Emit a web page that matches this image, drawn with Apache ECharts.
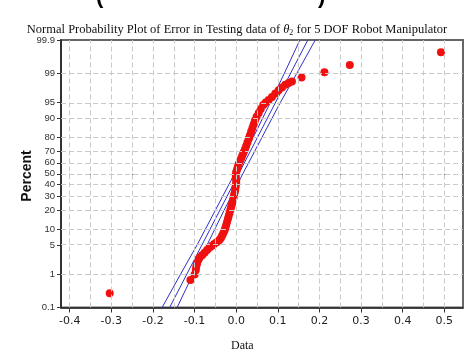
<!DOCTYPE html>
<html>
<head>
<meta charset="utf-8">
<script src="https://cdn.jsdelivr.net/npm/echarts@6/dist/echarts.min.js"></script>
<style>html,body{margin:0;padding:0;background:#fff;}#c{width:474px;height:363px;}</style>
</head>
<body>
<div id="c"></div>
<script>
// ---- data ----
const xTicks = [-0.4, -0.3, -0.2, -0.1, 0.0, 0.1, 0.2, 0.3, 0.4, 0.5];
const xMinorTicks = [-0.4, -0.35, -0.3, -0.25, -0.2, -0.15, -0.1, -0.05, 0, 0.05, 0.1, 0.15, 0.2, 0.25, 0.3, 0.35, 0.4, 0.45, 0.5];
const pctTicks = [0.1, 1, 5, 10, 20, 30, 40, 50, 60, 70, 80, 90, 95, 99, 99.9];

const errValues = [
  -0.304, -0.110, -0.100, -0.097, -0.096, -0.094, -0.091, -0.088, -0.082, -0.076,
  -0.070, -0.064, -0.058, -0.053, -0.047, -0.041, -0.037, -0.034, -0.031, -0.028,
  -0.026, -0.024, -0.022, -0.020, -0.018, -0.016, -0.014, -0.012, -0.010, -0.008,
  -0.006, -0.005, -0.003, -0.002, -0.001, 0.000, 0.000, -0.001, -0.001, 0.000,
  0.002, 0.004, 0.006, 0.009, 0.012, 0.015, 0.018, 0.021, 0.024, 0.027,
  0.030, 0.033, 0.036, 0.039, 0.042, 0.045, 0.049, 0.054, 0.059, 0.065,
  0.071, 0.078, 0.086, 0.094, 0.102, 0.110, 0.118, 0.126, 0.134, 0.157,
  0.212, 0.273, 0.492
];
const pctValues = [
  0.29, 0.71, 1.0, 1.3, 1.6, 1.9, 2.3, 2.6, 3.0, 3.4,
  3.9, 4.4, 4.8, 5.2, 5.7, 6.2, 6.8, 7.6, 8.5, 9.5,
  10.6, 11.8, 13.2, 14.8, 16.5, 18.3, 20.2, 22.3, 24.5, 26.8,
  29.2, 31.6, 34, 36.5, 39, 41.5, 44, 46.5, 49, 51.5,
  54, 56.5, 59, 61.5, 64, 66.5, 69, 71.5, 74, 76.5,
  79, 81.3, 83.5, 85.5, 87.4, 89.1, 90.6, 92, 93.3, 94.4,
  95.0, 95.6, 96.2, 96.8, 97.3, 97.7, 98.0, 98.2, 98.35, 98.7,
  99.05, 99.4, 99.75
];

const fitPct = [0.1, 99.9];
const fitX = [-0.160, 0.172];
const bandPct = [0.1, 1, 5, 20, 50, 80, 95, 99, 99.9];
const lowerBandX = [-0.178, -0.134, -0.094, -0.050, -0.004, 0.041, 0.082, 0.116, 0.153];
const upperBandX = [-0.142, -0.104, -0.070, -0.029, 0.016, 0.062, 0.106, 0.146, 0.190];

// ---- normal probability scale (inverse normal CDF) ----
function norminv(p) {
  const a = [-3.969683028665376e+01, 2.209460984245205e+02, -2.759285104469687e+02, 1.383577518672690e+02, -3.066479806614716e+01, 2.506628277459239e+00];
  const b = [-5.447609879822406e+01, 1.615858368580409e+02, -1.556989798598866e+02, 6.680131188771972e+01, -1.328068155288572e+01];
  const c = [-7.784894002430293e-03, -3.223964580411365e-01, -2.400758277161838e+00, -2.549732539343734e+00, 4.374664141464968e+00, 2.938163982698783e+00];
  const d = [7.784695709041462e-03, 3.224671290700398e-01, 2.445134137142996e+00, 3.754408661907416e+00];
  const pl = 0.02425, ph = 1 - pl;
  let q, r;
  if (p < pl) { q = Math.sqrt(-2 * Math.log(p)); return (((((c[0]*q+c[1])*q+c[2])*q+c[3])*q+c[4])*q+c[5]) / ((((d[0]*q+d[1])*q+d[2])*q+d[3])*q+1); }
  if (p <= ph) { q = p - 0.5; r = q*q; return (((((a[0]*r+a[1])*r+a[2])*r+a[3])*r+a[4])*r+a[5])*q / (((((b[0]*r+b[1])*r+b[2])*r+b[3])*r+b[4])*r+1); }
  q = Math.sqrt(-2 * Math.log(1 - p));
  return -(((((c[0]*q+c[1])*q+c[2])*q+c[3])*q+c[4])*q+c[5]) / ((((d[0]*q+d[1])*q+d[2])*q+d[3])*q+1);
}
const Z = p => norminv(p / 100);
const zTicks = pctTicks.map(Z);
const zMin = Z(0.1), zMax = Z(99.9);
const labelFor = v => {
  let best = 0, bd = 1e9;
  zTicks.forEach((z, i) => { const dd = Math.abs(z - v); if (dd < bd) { bd = dd; best = i; } });
  return String(pctTicks[best]);
};

const points = errValues.map((x, i) => [x, Z(pctValues[i])]);
const fitData = fitX.map((x, i) => [x, Z(fitPct[i])]);
const lowerData = lowerBandX.map((x, i) => [x, Z(bandPct[i])]);
const upperData = upperBandX.map((x, i) => [x, Z(bandPct[i])]);

const gridLineStyle = { color: '#c9c9c9', width: 1, type: [5, 3] };
const gridMarks = xMinorTicks.map(v => ({ xAxis: v }))
  .concat(pctTicks.slice(1, -1).map(p => ({ yAxis: Z(p) })));

const X_MIN = -0.421, X_MAX = 0.545;

const chart = echarts.init(document.getElementById('c'), null, { renderer: 'canvas' });
chart.setOption({
  animation: false,
  backgroundColor: '#fff',
  title: {
    left: 'center', top: 18,
    text: '{a|Normal Probability Plot of Error in Testing data of }{i|θ}{s|2}{a| for 5 DOF Robot Manipulator}',
    textStyle: {
      fontWeight: 'normal',
      rich: {
        a: { fontFamily: 'Liberation Serif', fontWeight: 'normal', fontSize: 12.5, color: '#111', lineHeight: 14 },
        i: { fontFamily: 'Liberation Serif', fontWeight: 'normal', fontStyle: 'italic', fontSize: 12.5, color: '#111', lineHeight: 14 },
        s: { fontFamily: 'Liberation Serif', fontWeight: 'normal', fontSize: 8, color: '#111', lineHeight: 8, verticalAlign: 'bottom' }
      }
    }
  },
  graphic: [
    { type: 'text', left: 96, top: -14, style: { text: '(', font: 'bold 22px "Liberation Sans"', fill: '#000' } },
    { type: 'text', left: 318, top: -14, style: { text: ')', font: 'bold 22px "Liberation Sans"', fill: '#000' } },
    { type: 'text', left: 231, top: 340, style: { text: 'Data', font: '12px "Liberation Serif"', fill: '#111' } },
    { type: 'text', x: 27, y: 176, rotation: Math.PI / 2, style: { text: 'Percent', font: 'bold 14px "Liberation Sans"', fill: '#111', align: 'center', verticalAlign: 'middle' } }
  ],
  grid: { left: 61, right: 11, top: 40, bottom: 55.5, show: true, borderColor: '#666', borderWidth: 2, backgroundColor: 'transparent' },
  xAxis: [
    {
      type: 'value', min: X_MIN, max: X_MAX, position: 'bottom',
      axisLine: { show: true, onZero: false, lineStyle: { color: '#222', width: 1.5 } },
      axisTick: { show: true, customValues: xTicks, length: 5, lineStyle: { color: '#333' } },
      axisLabel: { customValues: xTicks, formatter: v => v.toFixed(1), fontFamily: 'DejaVu Sans', fontSize: 11, color: '#222', margin: 8 },
      splitLine: { show: false }
    },
    {
      type: 'value', min: X_MIN, max: X_MAX, position: 'bottom', gridIndex: 0,
      axisLine: { show: false },
      axisTick: { show: true, customValues: xMinorTicks, length: 3, lineStyle: { color: '#555' } },
      axisLabel: { show: false },
      splitLine: { show: false }
    }
  ],
  yAxis: {
    type: 'value', min: zMin, max: zMax,
    axisLine: { show: true, onZero: false, lineStyle: { color: '#222', width: 1.5 } },
    axisTick: { show: true, customValues: zTicks, length: 4, lineStyle: { color: '#333' } },
    axisLabel: { customValues: zTicks, formatter: v => labelFor(v), fontFamily: 'Liberation Sans', fontSize: 9.5, color: '#333', margin: 6 },
    splitLine: { show: false }
  },
  series: [
    {
      type: 'line', data: [], silent: true, z: 1,
      markLine: { silent: true, symbol: 'none', label: { show: false }, lineStyle: gridLineStyle, data: gridMarks, animation: false }
    },
    { type: 'line', data: lowerData, showSymbol: false, symbol: 'none', lineStyle: { color: '#3030c8', width: 1 }, z: 3 },
    { type: 'line', data: fitData, showSymbol: false, symbol: 'none', lineStyle: { color: '#3030c8', width: 1 }, z: 3 },
    { type: 'line', data: upperData, showSymbol: false, symbol: 'none', lineStyle: { color: '#3030c8', width: 1 }, z: 3 },
    { type: 'scatter', data: points, symbol: 'circle', symbolSize: 8, itemStyle: { color: '#f01010', opacity: 1 }, z: 4 }
  ]
});
</script>
</body>
</html>
